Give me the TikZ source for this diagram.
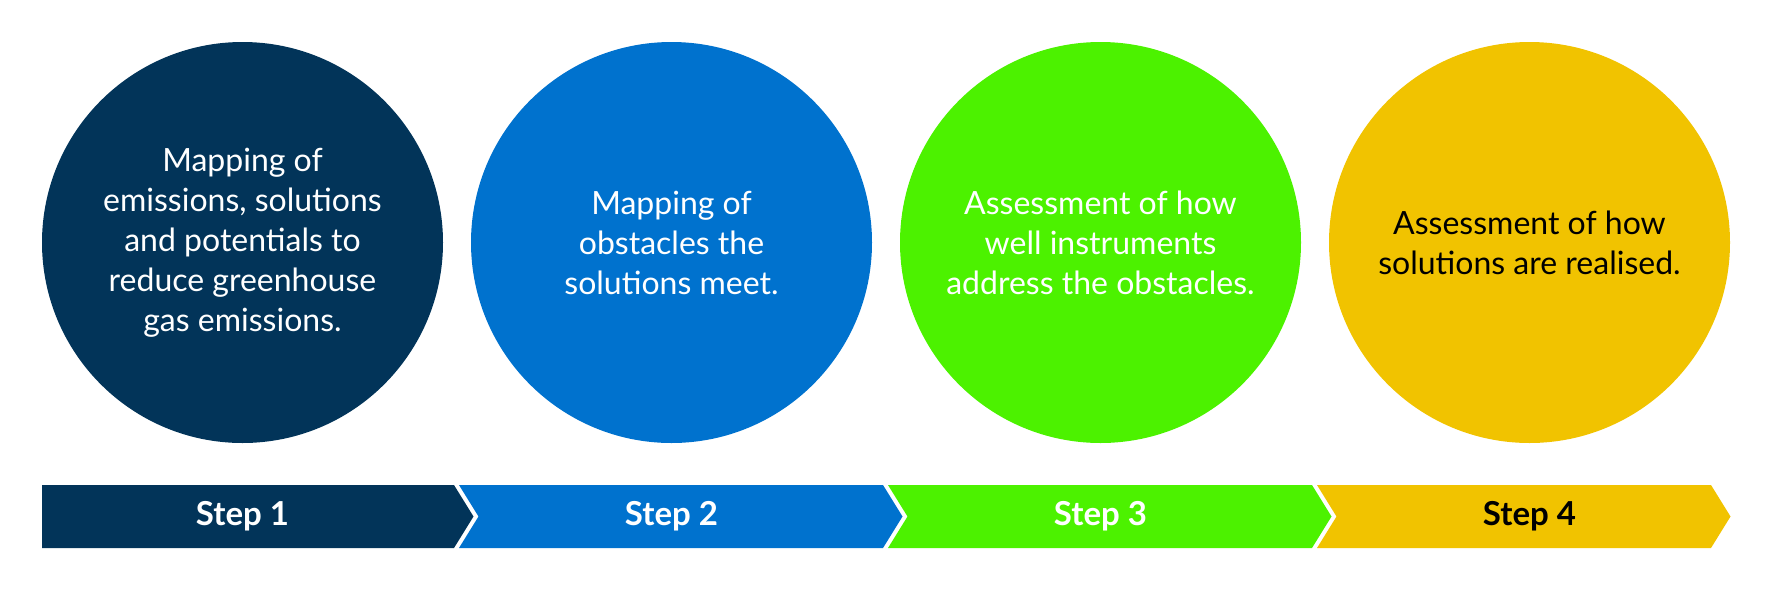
\documentclass[tikz,border=0pt]{standalone}
\usepackage{fontspec}
\setmainfont{Lato}
\definecolor{cnavy}{RGB}{2,52,89}
\definecolor{cblue}{RGB}{0,114,206}
\definecolor{cgreen}{RGB}{76,242,0}
\definecolor{cyellow}{RGB}{241,195,0}
\begin{document}
\begin{tikzpicture}[x=1pt,y=-1pt,
  circ/.style={circle, minimum size=401pt, inner sep=0pt, align=center,
    font=\fontsize{32}{40}\selectfont},
  steplabel/.style={inner sep=0pt, font=\fontsize{33}{36}\selectfont\bfseries}]
\useasboundingbox (0,0) rectangle (1773,590);
% circles
\node[circ, fill=cnavy, text=white] (c1) at (242.5,242.5)
  {Mapping of\\emissions, solutions\\and potentials to\\reduce greenhouse\\gas emissions.};
\node[circ, fill=cblue, text=white] (c2) at (671.5,242.5)
  {Mapping of\\obstacles the\\solutions meet.};
\node[circ, fill=cgreen, text=white] (c3) at (1100.5,242.5)
  {Assessment of how\\well instruments\\address the obstacles.};
\node[circ, fill=cyellow, text=black] (c4) at (1529.5,242.5)
  {Assessment of how\\solutions are realised.};
% step bars
\fill[cnavy] (42,485) -- (454,485) -- (473.5,516.5) -- (454,548) -- (42,548) -- cycle;
\fill[cblue] (459,485) -- (883,485) -- (902.5,516.5) -- (883,548) -- (459,548) -- (478.5,516.5) -- cycle;
\fill[cgreen] (888,485) -- (1312,485) -- (1331.5,516.5) -- (1312,548) -- (888,548) -- (907.5,516.5) -- cycle;
\fill[cyellow] (1317,485) -- (1711,485) -- (1730.5,516.5) -- (1711,548) -- (1317,548) -- (1336.5,516.5) -- cycle;
% step labels
\node[steplabel, text=white] (s1) at (242.5,516.5) {Step 1};
\node[steplabel, text=white] (s2) at (671.5,516.5) {Step 2};
\node[steplabel, text=white] (s3) at (1100.5,516.5) {Step 3};
\node[steplabel, text=black] (s4) at (1529.5,516.5) {Step 4};
\end{tikzpicture}
\end{document}
